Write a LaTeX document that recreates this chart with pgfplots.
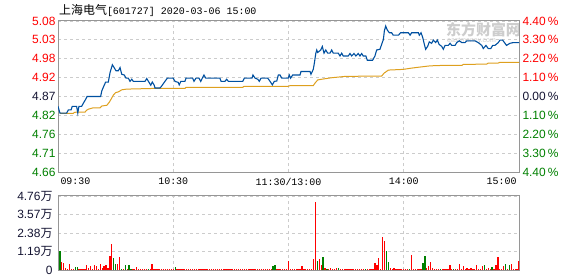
\documentclass[border=0pt]{standalone}
\usepackage{pgfplots}
\pgfplotsset{compat=1.18}
\usepackage{fontspec}
\setmainfont{Liberation Sans}
\newfontfamily\cjk{Noto Sans CJK SC}
\newfontfamily\mono{Liberation Mono}
\definecolor{cred}{RGB}{255,0,0}
\definecolor{cgreen}{RGB}{0,128,0}
\definecolor{cnavy}{RGB}{20,20,50}
\definecolor{cblue}{RGB}{0,80,160}
\definecolor{cgold}{RGB}{222,160,30}
\definecolor{cgrid}{RGB}{204,204,204}
\definecolor{cframe}{RGB}{150,150,150}
\definecolor{cwm}{RGB}{205,205,205}
\pgfplotsset{
  base/.style={
    width=461bp, scale only axis, xmin=0, xmax=240,
    axis line style={cframe, line width=1bp},
    major tick length=0pt,
    tick label style={font=\fontsize{12}{12}\selectfont},
    xticklabel style={font=\mono\fontsize{10}{10}\selectfont, yshift=-2.5bp},
    grid style={cgrid, dash pattern=on 3bp off 3bp, line width=0.9bp},
  }
}
\begin{document}
\begin{tikzpicture}
\useasboundingbox (0bp,0bp) rectangle (578bp,-276bp);
% title
\node[anchor=base west, inner sep=0pt] at (59bp,-14bp)
  {{\cjk\fontsize{12}{12}\selectfont 上海电气}{\mono\fontsize{10}{10}\selectfont[601727] 2020-03-06 15:00}};
% watermark
\node[anchor=west, inner sep=0pt, text=cwm] at (446bp,-30bp)
  {\cjk\bfseries\fontsize{15}{15}\selectfont 东方财富网};
\node[anchor=west, inner sep=0pt, text=cwm] at (447bp,-41bp)
  {\fontsize{7}{7}\selectfont eastmoney.com};
% main price axis
\begin{axis}[base, at={(58bp,-172bp)}, anchor=south west, height=151bp,
  ymin=4.65572, ymax=5.08428,
  xtick={60,120,180}, xticklabels={10:30,11:30/13:00,14:00},
  extra x ticks={0}, extra x tick labels={09:30},
  extra x tick style={grid=none, xticklabel style={anchor=north west, xshift=-1bp}},
  grid=major,
  ytick={4.65572,4.70929,4.76286,4.81643,4.87,4.92357,4.97714,5.03071,5.08428},
  yticklabels={\textcolor{cgreen}{4.66},\textcolor{cgreen}{4.71},\textcolor{cgreen}{4.76},\textcolor{cgreen}{4.82},\textcolor{cnavy}{4.87},\textcolor{cred}{4.92},\textcolor{cred}{4.98},\textcolor{cred}{5.03},\textcolor{cred}{5.08}},
  yticklabel style={xshift=1bp},
]
\addplot[cgold, line width=1bp] coordinates {(1,4.822)(8.0,4.822)(8.5,4.825)(10.6,4.826)(14.1,4.826)(14.9,4.831)(15.8,4.834)(18.4,4.838)(21.9,4.838)(22.8,4.843)(25.4,4.845)(26.6,4.853)(27.6,4.862)(28.8,4.874)(30.0,4.881)(31.4,4.883)(33.2,4.889)(35.8,4.891)(50.5,4.893)(66.1,4.893)(66.6,4.896)(96.2,4.896)(96.8,4.899)(119.9,4.899)(120.8,4.901)(132.9,4.901)(133.8,4.908)(135.2,4.917)(137.3,4.919)(142.1,4.923)(149.4,4.927)(163.8,4.928)(168.5,4.928)(169.7,4.936)(172.0,4.945)(179.8,4.947)(183.3,4.950)(187.6,4.953)(193.7,4.957)(198.9,4.958)(210.2,4.958)(211.0,4.961)(223.2,4.962)(224.0,4.965)(229.2,4.965)(230.1,4.967)(240,4.967)};
\addplot[cblue, line width=1.1bp] coordinates {(0,4.842)(1,4.823)(4.5,4.823)(5.4,4.832)(6.8,4.832)(7.4,4.842)(9.7,4.842)(10.3,4.823)(10.9,4.842)(12.3,4.842)(13.2,4.851)(14.4,4.862)(15.1,4.870)(22.2,4.870)(22.8,4.886)(23.9,4.900)(24.8,4.911)(26.2,4.911)(27.1,4.938)(28.3,4.960)(29.0,4.954)(30.2,4.943)(31.4,4.943)(32.3,4.952)(33.2,4.933)(34.5,4.931)(35.4,4.922)(36.6,4.922)(37.5,4.913)(38.4,4.919)(39.2,4.913)(45.3,4.913)(46.2,4.921)(47.4,4.910)(48.3,4.902)(49.1,4.911)(50.1,4.902)(50.5,4.894)(53.1,4.894)(54.0,4.900)(55.7,4.913)(56.9,4.922)(60.0,4.922)(60.9,4.913)(62.6,4.910)(63.1,4.903)(64.0,4.913)(66.1,4.913)(66.6,4.922)(70.1,4.922)(70.8,4.913)(71.8,4.922)(73.4,4.922)(74.3,4.913)(75.3,4.924)(76.0,4.931)(76.9,4.922)(84.3,4.922)(84.9,4.913)(86.9,4.913)(87.8,4.919)(88.7,4.913)(96.2,4.913)(97.0,4.922)(101,4.922)(101.5,4.931)(102.6,4.922)(104.0,4.919)(104.8,4.913)(105.7,4.922)(109.2,4.922)(110.4,4.913)(111.6,4.903)(112.6,4.913)(113.9,4.914)(114.7,4.931)(115.6,4.931)(116.5,4.922)(119.9,4.922)(120.4,4.931)(121.1,4.922)(122.2,4.931)(126.0,4.931)(126.5,4.941)(131.2,4.941)(131.7,4.933)(132.9,4.947)(133.5,4.966)(134.2,4.992)(134.7,5.002)(135.2,4.995)(135.9,4.998)(136.8,5.002)(137.6,5.012)(138.5,4.993)(139.4,5.002)(140.4,4.993)(141.6,4.993)(142.5,5.002)(143.3,4.993)(145.9,4.993)(146.8,4.985)(147.7,4.993)(148.5,4.985)(151.1,4.985)(152.0,4.992)(152.9,4.985)(154.1,4.992)(155.1,4.985)(156.3,4.992)(157.2,4.985)(158.1,4.992)(158.9,4.985)(160.3,4.985)(161.0,4.973)(163.8,4.973)(165.0,4.985)(165.9,5.002)(167.6,5.004)(168.5,5.018)(169.4,5.032)(169.9,5.056)(170.6,5.070)(171.4,5.059)(172.5,5.051)(173.7,5.051)(174.5,5.044)(177.2,5.044)(178.4,5.051)(182.4,5.051)(183.3,5.044)(184.1,5.051)(187.6,5.051)(188.1,5.044)(189.0,5.051)(189.9,5.037)(190.5,5.023)(191.4,5.004)(192.5,5.013)(193.3,5.025)(194.5,5.021)(195.4,5.030)(196.6,5.023)(197.5,5.030)(198.4,5.018)(199.8,5.012)(200.6,5.004)(201.5,5.015)(203.2,5.015)(204.1,5.021)(205.0,5.015)(206.7,5.015)(207.6,5.023)(208.9,5.028)(210.2,5.023)(211.9,5.023)(212.8,5.028)(217.1,5.028)(218.8,5.023)(220.6,5.015)(221.4,5.006)(222.8,5.015)(224.0,5.006)(225.3,5.006)(226.3,5.015)(227.5,5.015)(229.2,5.023)(230.1,5.030)(231.5,5.030)(232.7,5.021)(233.5,5.015)(235.3,5.021)(237.0,5.023)(240,5.023)};
\end{axis}
% right percent axis
\begin{axis}[base, at={(58bp,-172bp)}, anchor=south west, height=151bp,
  ymin=-4.4, ymax=4.4,
  axis y line*=right, axis x line*=bottom,
  x axis line style={draw=none}, y axis line style={draw=none},
  xtick={240}, xticklabels={15:00},
  xticklabel style={anchor=north east, xshift=1bp},
  ytick={-4.4,-3.3,-2.2,-1.1,0,1.1,2.2,3.3,4.4},
  yticklabels={\textcolor{cgreen}{4.40\,\%},\textcolor{cgreen}{3.30\,\%},\textcolor{cgreen}{2.20\,\%},\textcolor{cgreen}{1.10\,\%},\textcolor{cnavy}{0.00\,\%},\textcolor{cred}{1.10\,\%},\textcolor{cred}{2.20\,\%},\textcolor{cred}{3.30\,\%},\textcolor{cred}{4.40\,\%}},
]
\addplot[draw=none] coordinates {(0,0)};
\end{axis}
% volume axis
\begin{axis}[base, at={(58bp,-270bp)}, anchor=south west, height=74bp,
  ymin=0, ymax=4.76,
  xtick={60,120,180}, xticklabels={}, grid=major,
  ytick={0,1.19,2.38,3.57,4.76},
  yticklabels={0,1.19{\cjk 万},2.38{\cjk 万},3.57{\cjk 万},4.76{\cjk 万}},
  yticklabel style={text=cnavy, xshift=-2bp},
]
\addplot[ycomb, cred, line width=1.3bp] coordinates {(2,0.53)(3,0.47)(4,0.15)(5,0.06)(6,0.39)(7,0.06)(8,0.08)(11,0.06)(12,0.08)(13,0.06)(14,0.06)(15,0.32)(16,0.12)(17,0.26)(18,0.08)(19,0.32)(20,0.26)(21,0.08)(22,0.39)(23,0.14)(24,0.26)(25,0.32)(26,0.10)(27,0.90)(28,1.67)(31,0.39)(32,0.81)(34,0.06)(36,0.06)(39,0.06)(40,0.08)(41,0.17)(42,0.06)(43,0.06)(44,0.06)(45,0.06)(46,0.06)(48,0.06)(49,0.39)(50,0.06)(51,0.06)(52,0.06)(53,0.06)(54,0.06)(55,0.06)(56,0.06)(57,0.06)(58,0.06)(59,0.06)(60,0.06)(62,0.06)(63,0.06)(64,0.06)(65,0.06)(66,0.06)(67,0.06)(68,0.06)(69,0.06)(70,0.06)(71,0.06)(72,0.06)(73,0.06)(74,0.06)(75,0.06)(76,0.06)(77,0.06)(78,0.06)(79,0.06)(80,0.06)(81,0.06)(82,0.06)(83,0.06)(84,0.06)(85,0.06)(86,0.06)(87,0.06)(88,0.06)(89,0.06)(90,0.06)(91,0.06)(92,0.06)(93,0.06)(94,0.06)(95,0.06)(96,0.06)(97,0.08)(98,0.06)(99,0.06)(100,0.06)(101,0.06)(102,0.06)(103,0.06)(104,0.06)(105,0.06)(106,0.06)(107,0.06)(108,0.06)(109,0.06)(110,0.06)(111,0.06)(114,0.06)(115,0.06)(116,0.06)(117,0.06)(118,0.06)(119,0.06)(120,0.58)(121,0.06)(122,0.06)(123,0.06)(124,0.06)(125,0.06)(126,0.06)(127,0.26)(128,0.06)(129,0.06)(130,0.06)(131,0.06)(132,0.06)(133,0.71)(134,4.37)(136,0.71)(137,0.32)(139,0.12)(141,0.06)(142,0.14)(143,0.06)(144,0.06)(145,0.14)(147,0.08)(148,0.06)(149,0.06)(150,0.06)(151,0.06)(152,0.06)(153,0.06)(154,0.06)(155,0.06)(156,0.06)(157,0.06)(158,0.06)(159,0.06)(161,0.06)(162,0.06)(163,0.06)(164,0.06)(165,0.45)(166,0.32)(167,0.77)(168,0.08)(169,2.12)(170,1.86)(173,0.14)(174,0.06)(175,0.14)(176,0.06)(177,0.06)(178,0.06)(179,0.06)(180,0.06)(181,0.06)(182,0.06)(184,0.96)(185,0.06)(186,0.06)(187,0.06)(188,0.06)(189,0.06)(192,0.10)(193,0.26)(194,0.51)(195,0.10)(196,0.06)(197,0.06)(198,0.06)(200,0.06)(201,0.06)(202,0.06)(203,0.06)(204,0.32)(205,0.06)(207,0.06)(208,0.06)(209,0.39)(210,0.06)(211,0.26)(212,0.06)(213,0.12)(214,0.06)(215,0.12)(216,0.06)(217,0.06)(218,0.32)(219,0.06)(220,0.06)(221,0.26)(223,0.06)(224,0.10)(225,0.06)(227,0.06)(228,0.32)(229,0.84)(230,0.06)(231,0.06)(232,0.26)(234,0.06)(236,0.39)(237,0.06)(238,0.06)(239,0.06)(240,0.58)};
\addplot[ycomb, cgreen, line width=1.3bp] coordinates {(1,1.22)(9,0.21)(10,0.21)(29,0.75)(30,0.39)(33,0.08)(35,0.32)(37,0.32)(38,0.08)(47,0.08)(61,0.17)(112,0.24)(113,0.30)(135,0.58)(138,0.84)(140,0.08)(146,0.14)(160,0.06)(171,1.22)(172,0.51)(183,0.08)(190,0.45)(191,0.90)(199,0.06)(206,0.06)(222,0.32)(226,0.17)(233,0.39)(235,0.32)};
\end{axis}
\end{tikzpicture}
\end{document}
